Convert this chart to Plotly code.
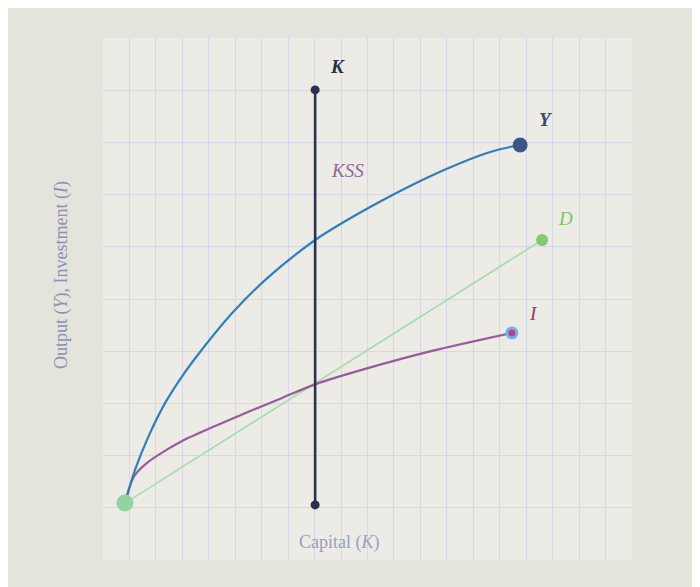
import plotly.graph_objects as go

# Data (in grid units)
y_k = [0.83, 1.21, 1.70, 2.34, 2.99, 3.67, 4.91, 6.20, 8.02, 9.07, 10.36, 11.61, 12.85, 14.14, 14.90, 15.77]
y_v = [2.18, 3.45, 4.69, 6.00, 7.04, 7.97, 9.49, 10.79, 12.26, 12.93, 13.67, 14.33, 14.92, 15.46, 15.71, 15.90]

i_k = [0.83, 1.02, 1.21, 1.70, 2.34, 2.99, 4.24, 5.48, 6.77, 8.02, 9.98, 12.48, 15.46]
i_v = [2.18, 2.84, 3.26, 3.75, 4.18, 4.56, 5.13, 5.67, 6.21, 6.73, 7.34, 8.02, 8.70]

d_k = [0.83, 16.60]
d_v = [2.18, 12.26]

kss_x = [8.02, 8.02]
kss_y = [2.11, 18.01]

labels = ["K", "KSS", "Y", "D", "I"]
label_x = [8.88, 9.26, 16.75, 17.50, 16.26]
label_y = [18.89, 14.94, 16.86, 13.10, 9.46]

fig = go.Figure()

fig.add_trace(go.Scatter(x=d_k, y=d_v, mode="lines", line=dict(color="#a6dcaa", width=1.6),
                         hoverinfo="skip", showlegend=False))
fig.add_trace(go.Scatter(x=i_k, y=i_v, mode="lines", line=dict(color="#9a5a9e", width=2.2, shape="spline", smoothing=0.8),
                         hoverinfo="skip", showlegend=False))
fig.add_trace(go.Scatter(x=y_k, y=y_v, mode="lines", line=dict(color="#2f7fc0", width=2.2, shape="spline", smoothing=0.8),
                         hoverinfo="skip", showlegend=False))
fig.add_trace(go.Scatter(x=kss_x, y=kss_y, mode="lines+markers",
                         line=dict(color="#2b3150", width=2.6),
                         marker=dict(color="#2b3150", size=9),
                         hoverinfo="skip", showlegend=False))
# end markers
fig.add_trace(go.Scatter(x=[y_k[-1]], y=[y_v[-1]], mode="markers",
                         marker=dict(color="#3b5584", size=15), showlegend=False))
fig.add_trace(go.Scatter(x=[d_k[-1]], y=[d_v[-1]], mode="markers",
                         marker=dict(color="#84c874", size=12), showlegend=False))
fig.add_trace(go.Scatter(x=[i_k[-1]], y=[i_v[-1]], mode="markers",
                         marker=dict(color="#c0407a", size=10, line=dict(color="#6ab4f0", width=3)),
                         showlegend=False))
fig.add_trace(go.Scatter(x=[d_k[0]], y=[d_v[0]], mode="markers",
                         marker=dict(color="#93d3a0", size=17), showlegend=False))

label_colors = ["#2a2f45", "#8a6a9a", "#3a4a6a", "#7cc46a", "#8a3a6a"]
for t, lx, ly, c in zip(labels, label_x, label_y, label_colors):
    txt = f"<b><i>{t}</i></b>" if t in ("K", "Y") else f"<i>{t}</i>"
    fig.add_annotation(x=lx, y=ly, text=txt, showarrow=False,
                       font=dict(family="Liberation Serif", size=19, color=c))

fig.add_annotation(xref="paper", yref="paper", x=0.448, y=0.034, xanchor="center", yanchor="middle",
                   text="Capital (<i>K</i>)", showarrow=False,
                   font=dict(family="Liberation Serif", size=18, color="#98a0c0"))
fig.add_annotation(xref="paper", yref="paper", x=-0.0775, y=0.546, xanchor="center", yanchor="middle",
                   textangle=-90, text="Output (<i>Y</i>), Investment (<i>I</i>)", showarrow=False,
                   font=dict(family="Liberation Serif", size=18, color="#8a92ae"))

fig.update_xaxes(range=[0, 20], tick0=0, dtick=1, showgrid=True, gridcolor="#d6d8e8", gridwidth=1,
                 showticklabels=False, zeroline=False, showline=False, ticks="")
fig.update_yaxes(range=[0, 20], tick0=0, dtick=2, showgrid=True, gridcolor="#d6d8e8", gridwidth=1,
                 showticklabels=False, zeroline=False, showline=False, ticks="")

fig.update_layout(width=684, height=579, margin=dict(l=95, r=60, t=30, b=27),
                  paper_bgcolor="#e4e3dc", plot_bgcolor="#ecebe5", showlegend=False)

fig.write_html("out.html")
